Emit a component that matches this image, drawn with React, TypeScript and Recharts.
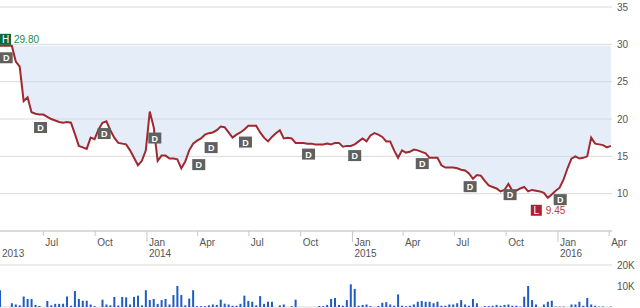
import {
  ComposedChart,
  Line,
  Area,
  Bar,
  XAxis,
  YAxis,
  CartesianGrid,
  ReferenceDot,
} from "recharts";

// weekly closes, first week starting 2013-04-15
const START_DATE = "2013-04-15";
const END_DATE = "2016-04-06";

const PRICES = [
  29.8, 29.8, 29.8, 29.8, 27.7, 27.0, 22.4, 22.9, 20.9, 20.7,
  20.6, 20.6, 20.3, 20.0, 19.8, 19.6, 19.5, 19.6, 19.5, 18.0,
  16.4, 16.2, 16.0, 17.5, 17.3, 18.6, 19.5, 19.7, 18.5, 17.5,
  16.8, 16.7, 16.6, 15.8, 14.8, 13.8, 14.4, 15.8, 21.0, 18.9,
  14.4, 15.1, 15.1, 14.7, 14.7, 14.6, 13.4, 14.3, 15.8, 16.7,
  17.1, 17.4, 17.9, 18.1, 18.2, 18.5, 19.0, 18.9, 18.2, 17.5,
  17.9, 18.2, 18.6, 19.1, 19.1, 19.1, 18.2, 17.5, 17.0, 17.6,
  18.1, 18.5, 17.4, 17.5, 17.4, 16.8, 16.8, 16.8, 16.7, 16.7,
  16.6, 16.6, 16.6, 16.7, 16.6, 16.8, 16.8, 16.3, 16.4, 16.4,
  16.6, 17.0, 17.4, 17.0, 17.8, 18.1, 17.9, 17.6, 17.0, 17.0,
  15.8, 14.8, 15.8, 15.5, 15.6, 15.9, 15.8, 15.6, 15.4, 14.8,
  14.8, 14.8, 13.8, 13.5, 13.5, 13.5, 13.4, 13.2, 13.1, 12.7,
  12.0, 12.5, 12.4, 11.7, 11.1, 10.9, 10.7, 10.3, 10.5, 11.3,
  10.4, 10.4, 10.7, 10.9, 10.3, 10.5, 10.4, 10.3, 10.1, 9.45,
  9.9, 10.4, 10.8, 11.9, 13.4, 14.7, 15.0, 14.7, 14.8, 15.0,
  17.5, 16.7, 16.6, 16.5, 16.2, 16.4,
];

// weekly volume, thousands
const VOLUME_K = [
  8, 0, 0, 1.8, 1.2, 0.8, 5, 3.8, 3.8, 1,
  0.5, 0, 2.9, 0.8, 1.5, 1.5, 1.5, 5, 0.6, 7.6,
  3.8, 3, 3, 1.2, 0.4, 0, 3.5, 1.2, 0.8, 4.8,
  0.7, 4.8, 4.6, 1.2, 4.8, 5.4, 0.8, 8, 3.3, 3.8,
  1.5, 3.3, 3.8, 1.2, 5.7, 10, 5.7, 0.8, 4, 8,
  0.4, 0.4, 0.4, 0.8, 1.2, 1, 3.5, 1.6, 1.2, 0.6,
  0.6, 1.5, 5.4, 2.9, 2.5, 0.8, 5.2, 1.5, 2.5, 2.5,
  0, 0.8, 1.2, 0, 0.4, 3.5, 0, 0, 0, 0,
  0, 0.5, 0.4, 1, 3.8, 4.3, 1, 0.6, 3.3, 10.8,
  8.6, 0.6, 1, 1.2, 0.4, 0, 0.5, 2, 2.3, 1.2,
  0.6, 6, 0.6, 0.4, 0.6, 1.2, 2.5, 2.9, 2.5, 2.5,
  1.8, 2.5, 0.6, 0.6, 1.2, 1.2, 1.8, 3.3, 1.2, 0.6,
  3.8, 1.8, 0, 0.4, 0.4, 0.6, 1, 0.6, 1, 1.2,
  0.6, 0.6, 0.2, 4.9, 10, 3.3, 1.2, 0, 1.2, 2.5,
  3, 0.2, 0.2, 0.2, 0, 1.2, 1.2, 2.5, 0.6, 4.3,
  1.2, 0.6, 0.2, 0.2, 0, 0.2,
];

const TICK_DATES = [
  "2013-04-15", "2013-07-01", "2013-10-01", "2014-01-01", "2014-04-01",
  "2014-07-01", "2014-10-01", "2015-01-01", "2015-04-01", "2015-07-01",
  "2015-10-01", "2016-01-01", "2016-04-01",
];
const TICK_MONTHS = ["", "Jul", "Oct", "Jan", "Apr", "Jul", "Oct", "Jan", "Apr", "Jul", "Oct", "Jan", "Apr"];
const TICK_YEARS = ["2013", "", "", "2014", "", "", "", "2015", "", "", "", "2016", ""];

const PRICE_TICKS = [10, 15, 20, 25, 30, 35];
const VOLUME_TICKS = [10000, 20000];

// dividend markers: date and the level the badge sits at
const DIV_DATES = [
  "2013-04-26", "2013-06-26", "2013-10-17", "2014-01-15", "2014-04-03",
  "2014-04-25", "2014-06-25", "2014-10-15", "2015-01-05", "2015-05-05",
  "2015-07-29", "2015-10-08", "2016-01-05",
];
const DIV_LEVELS = [28.2, 18.86, 18.05, 17.45, 13.89, 16.17, 16.91, 15.3, 15.1, 14.03, 10.94, 9.87, 9.2];

const DAY = 86400000;
const toTime = (s: string) => new Date(s + "T00:00:00Z").getTime();
const START = toTime(START_DATE);
const END = toTime(END_DATE);
const TICK_TIMES = TICK_DATES.map(toTime);

const HIGH = Math.max(...PRICES);
const LOW = Math.min(...PRICES);
const HIGH_IDX = PRICES.indexOf(HIGH);
const LOW_IDX = PRICES.indexOf(LOW);

const data = PRICES.map((p, i) => ({
  t: START + i * 7 * DAY,
  price: p,
  band: [p, HIGH],
  vol: VOLUME_K[i] * 1000,
}));

const FONT = "'Liberation Sans', Arial, sans-serif";
const LABEL = "#555";

function DateTick(props: any) {
  const { x, y, payload } = props;
  const i = TICK_TIMES.indexOf(payload.value);
  if (i < 0) return null;
  const hasYear = TICK_YEARS[i] !== "";
  return (
    <g>
      {TICK_MONTHS[i] !== "" && (
        <line x1={x} x2={x} y1={y} y2={y + (hasYear ? 11 : 5)} stroke="#c8c8c8" />
      )}
      <text x={x + 2} y={y + 15} fontSize={10} fill={LABEL}>
        {TICK_MONTHS[i]}
      </text>
      <text x={x + 2} y={y + 26} fontSize={10} fill={LABEL}>
        {TICK_YEARS[i]}
      </text>
    </g>
  );
}

function DivBadge(props: any) {
  const { cx, cy } = props;
  return (
    <g>
      <rect x={cx - 6.5} y={cy - 5.5} width={13} height={11} fill="#606060" />
      <text x={cx} y={cy + 3.5} fontSize={9} fontWeight="bold" fill="#fff" textAnchor="middle">
        D
      </text>
    </g>
  );
}

function HighBadge(props: any) {
  const { cx, cy } = props;
  const bx = Math.max(0, cx - 17);
  return (
    <g>
      <rect x={bx} y={cy - 12} width={11} height={11} fill="#0b6b3c" />
      <text x={bx + 5.5} y={cy - 2.5} fontSize={10} fill="#fff" textAnchor="middle">
        H
      </text>
      <text x={bx + 14} y={cy - 2.5} fontSize={10} fill="#238456">
        {HIGH.toFixed(2)}
      </text>
    </g>
  );
}

function LowBadge(props: any) {
  const { cx, cy } = props;
  const bx = Math.max(0, cx - 17);
  return (
    <g>
      <rect x={bx} y={cy + 7} width={11} height={11} fill="#b0202e" />
      <text x={bx + 5.5} y={cy + 16.5} fontSize={10} fill="#fff" textAnchor="middle">
        L
      </text>
      <text x={bx + 15} y={cy + 16.5} fontSize={10} fill="#c2343e">
        {LOW.toFixed(2)}
      </text>
    </g>
  );
}

export default function App() {
  return (
    <div style={{ position: "absolute", left: 0, top: 0, width: 640, height: 308, fontFamily: FONT, background: "#fff" }}>
      <div style={{ position: "absolute", left: 0, top: 0 }}>
        <ComposedChart width={640} height={265} data={data} margin={{ top: 7, right: 0, bottom: 0, left: 0 }}>
          <CartesianGrid horizontal vertical={false} stroke="#dadada" />
          <XAxis
            dataKey="t"
            type="number"
            domain={[START, END]}
            allowDataOverflow
            ticks={TICK_TIMES}
            interval={0}
            height={34}
            tickLine={false}
            tickSize={0}
            tickMargin={0}
            axisLine={{ stroke: "#c8c8c8" }}
            tick={<DateTick />}
          />
          <YAxis
            orientation="right"
            width={28}
            domain={[5, 35]}
            ticks={PRICE_TICKS}
            axisLine={false}
            tickLine={false}
            tickSize={5}
            tickMargin={0}
            tick={{ fontSize: 10, fill: LABEL, textAnchor: "start" }}
          />
          <Area
            dataKey="band"
            type="linear"
            stroke="none"
            fill="#c5d6f2"
            fillOpacity={0.45}
            isAnimationActive={false}
          />
          <Line
            dataKey="price"
            type="linear"
            stroke="#a0282f"
            strokeWidth={2}
            dot={false}
            isAnimationActive={false}
          />
          {DIV_DATES.map((d, i) => (
            <ReferenceDot
              key={d}
              x={toTime(d)}
              y={DIV_LEVELS[i]}
              r={0}
              ifOverflow="visible"
              shape={(p: any) => <DivBadge {...p} />}
            />
          ))}
          <ReferenceDot
            x={data[HIGH_IDX].t}
            y={HIGH}
            r={0}
            ifOverflow="visible"
            shape={(p: any) => <HighBadge {...p} />}
          />
          <ReferenceDot
            x={data[LOW_IDX].t}
            y={LOW}
            r={0}
            ifOverflow="visible"
            shape={(p: any) => <LowBadge {...p} />}
          />
        </ComposedChart>
      </div>
      <div style={{ position: "absolute", left: 0, top: 255 }}>
        <ComposedChart width={640} height={53} data={data} margin={{ top: 10, right: 0, bottom: 1, left: 0 }}>
          <CartesianGrid horizontal vertical={false} stroke="#dadada" />
          <XAxis dataKey="t" type="number" domain={[START, END]} allowDataOverflow hide />
          <YAxis
            orientation="right"
            width={28}
            domain={[0, 20000]}
            ticks={VOLUME_TICKS}
            axisLine={false}
            tickLine={false}
            tickSize={5}
            tickMargin={0}
            tick={{ fontSize: 10, fill: LABEL, textAnchor: "start" }}
            tickFormatter={(v: number) => `${v / 1000}K`}
          />
          <Bar dataKey="vol" fill="#1c5cc4" barSize={2} isAnimationActive={false} />
        </ComposedChart>
      </div>
    </div>
  );
}
